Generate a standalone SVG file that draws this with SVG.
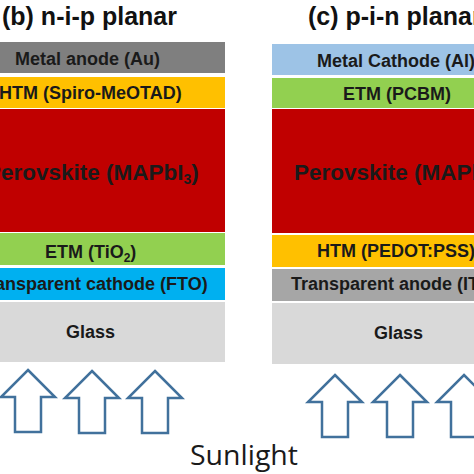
<svg xmlns="http://www.w3.org/2000/svg" xmlns:xlink="http://www.w3.org/1999/xlink" width="474" height="474" viewBox="0 0 474 474">
<style>
.t{font-family:"Liberation Sans",Arial,sans-serif;font-weight:bold;font-size:18px;fill:#1a1a1a}
.big{font-size:22.5px}
.title{font-family:"Liberation Sans",Arial,sans-serif;font-weight:bold;font-size:25px;fill:#111}
.sun{font-family:"Open Sans","Noto Sans",sans-serif;font-size:28px;fill:#1a1a1a}
.arrow{fill:#fff;stroke:#41719c;stroke-width:2.5;stroke-linejoin:miter}
</style>
<defs>
<path id="up" d="M0,0 L27,27 L13,27 L13,62 L-13,62 L-13,27 L-27,27 Z"/>
</defs>
<rect width="474" height="474" fill="#fff"/>
<text class="title" x="2" y="25">(b) n-i-p planar</text>
<text class="title" x="308" y="25">(c) p-i-n planar</text>

<g id="nip-metal"><rect x="-45" y="42" width="270" height="31" fill="#7f7f7f"/><text class="t" x="15" y="65">Metal anode (Au)</text></g>
<g id="nip-htm"><rect x="-45" y="77" width="270" height="31" fill="#ffc000"/><text class="t" x="-1" y="99">HTM (Spiro-MeOTAD)</text></g>
<g id="nip-perovskite"><rect x="-45" y="109" width="270" height="123" fill="#c00000"/><text class="t big" x="-14" y="180">Perovskite (MAPbI<tspan font-size="14" dy="4">3</tspan><tspan dy="-4">)</tspan></text></g>
<g id="nip-etm"><rect x="-45" y="233" width="270" height="32" fill="#92d050"/><text class="t" x="45" y="258">ETM (TiO<tspan font-size="12" dy="4">2</tspan><tspan dy="-4">)</tspan></text></g>
<g id="nip-fto"><rect x="-45" y="268" width="270" height="32" fill="#00b0f0"/><text class="t" x="-22" y="290">Transparent cathode (FTO)</text></g>
<g id="nip-glass"><rect x="-45" y="302" width="270" height="60" fill="#d9d9d9"/><text class="t" x="66" y="338">Glass</text></g>

<g id="pin-metal"><rect x="272" y="44" width="254" height="31" fill="#9dc3e6"/><text class="t" x="317" y="67">Metal Cathode (Al)</text></g>
<g id="pin-etm"><rect x="272" y="78" width="254" height="30" fill="#92d050"/><text class="t" x="343" y="100">ETM (PCBM)</text></g>
<g id="pin-perovskite"><rect x="272" y="109" width="254" height="124" fill="#c00000"/><text class="t big" x="294" y="180">Perovskite (MAPbI<tspan font-size="14" dy="4">3</tspan><tspan dy="-4">)</tspan></text></g>
<g id="pin-htm"><rect x="272" y="235" width="254" height="32" fill="#ffc000"/><text class="t" x="317" y="257">HTM (PEDOT:PSS)</text></g>
<g id="pin-ito"><rect x="272" y="269" width="254" height="32" fill="#a6a6a6"/><text class="t" x="291" y="290">Transparent anode (ITO)</text></g>
<g id="pin-glass"><rect x="272" y="303" width="254" height="61" fill="#d9d9d9"/><text class="t" x="374" y="339">Glass</text></g>

<g id="sunlight-arrows">
<use xlink:href="#up" class="arrow" x="28" y="370"/>
<use xlink:href="#up" class="arrow" x="92" y="371"/>
<use xlink:href="#up" class="arrow" x="155" y="371"/>
<use xlink:href="#up" class="arrow" x="335" y="375"/>
<use xlink:href="#up" class="arrow" x="400" y="375"/>
<use xlink:href="#up" class="arrow" x="464" y="375"/>
</g>
<g id="sunlight"><text class="sun" x="190" y="465" textLength="108" lengthAdjust="spacingAndGlyphs">Sunlight</text></g>
</svg>
